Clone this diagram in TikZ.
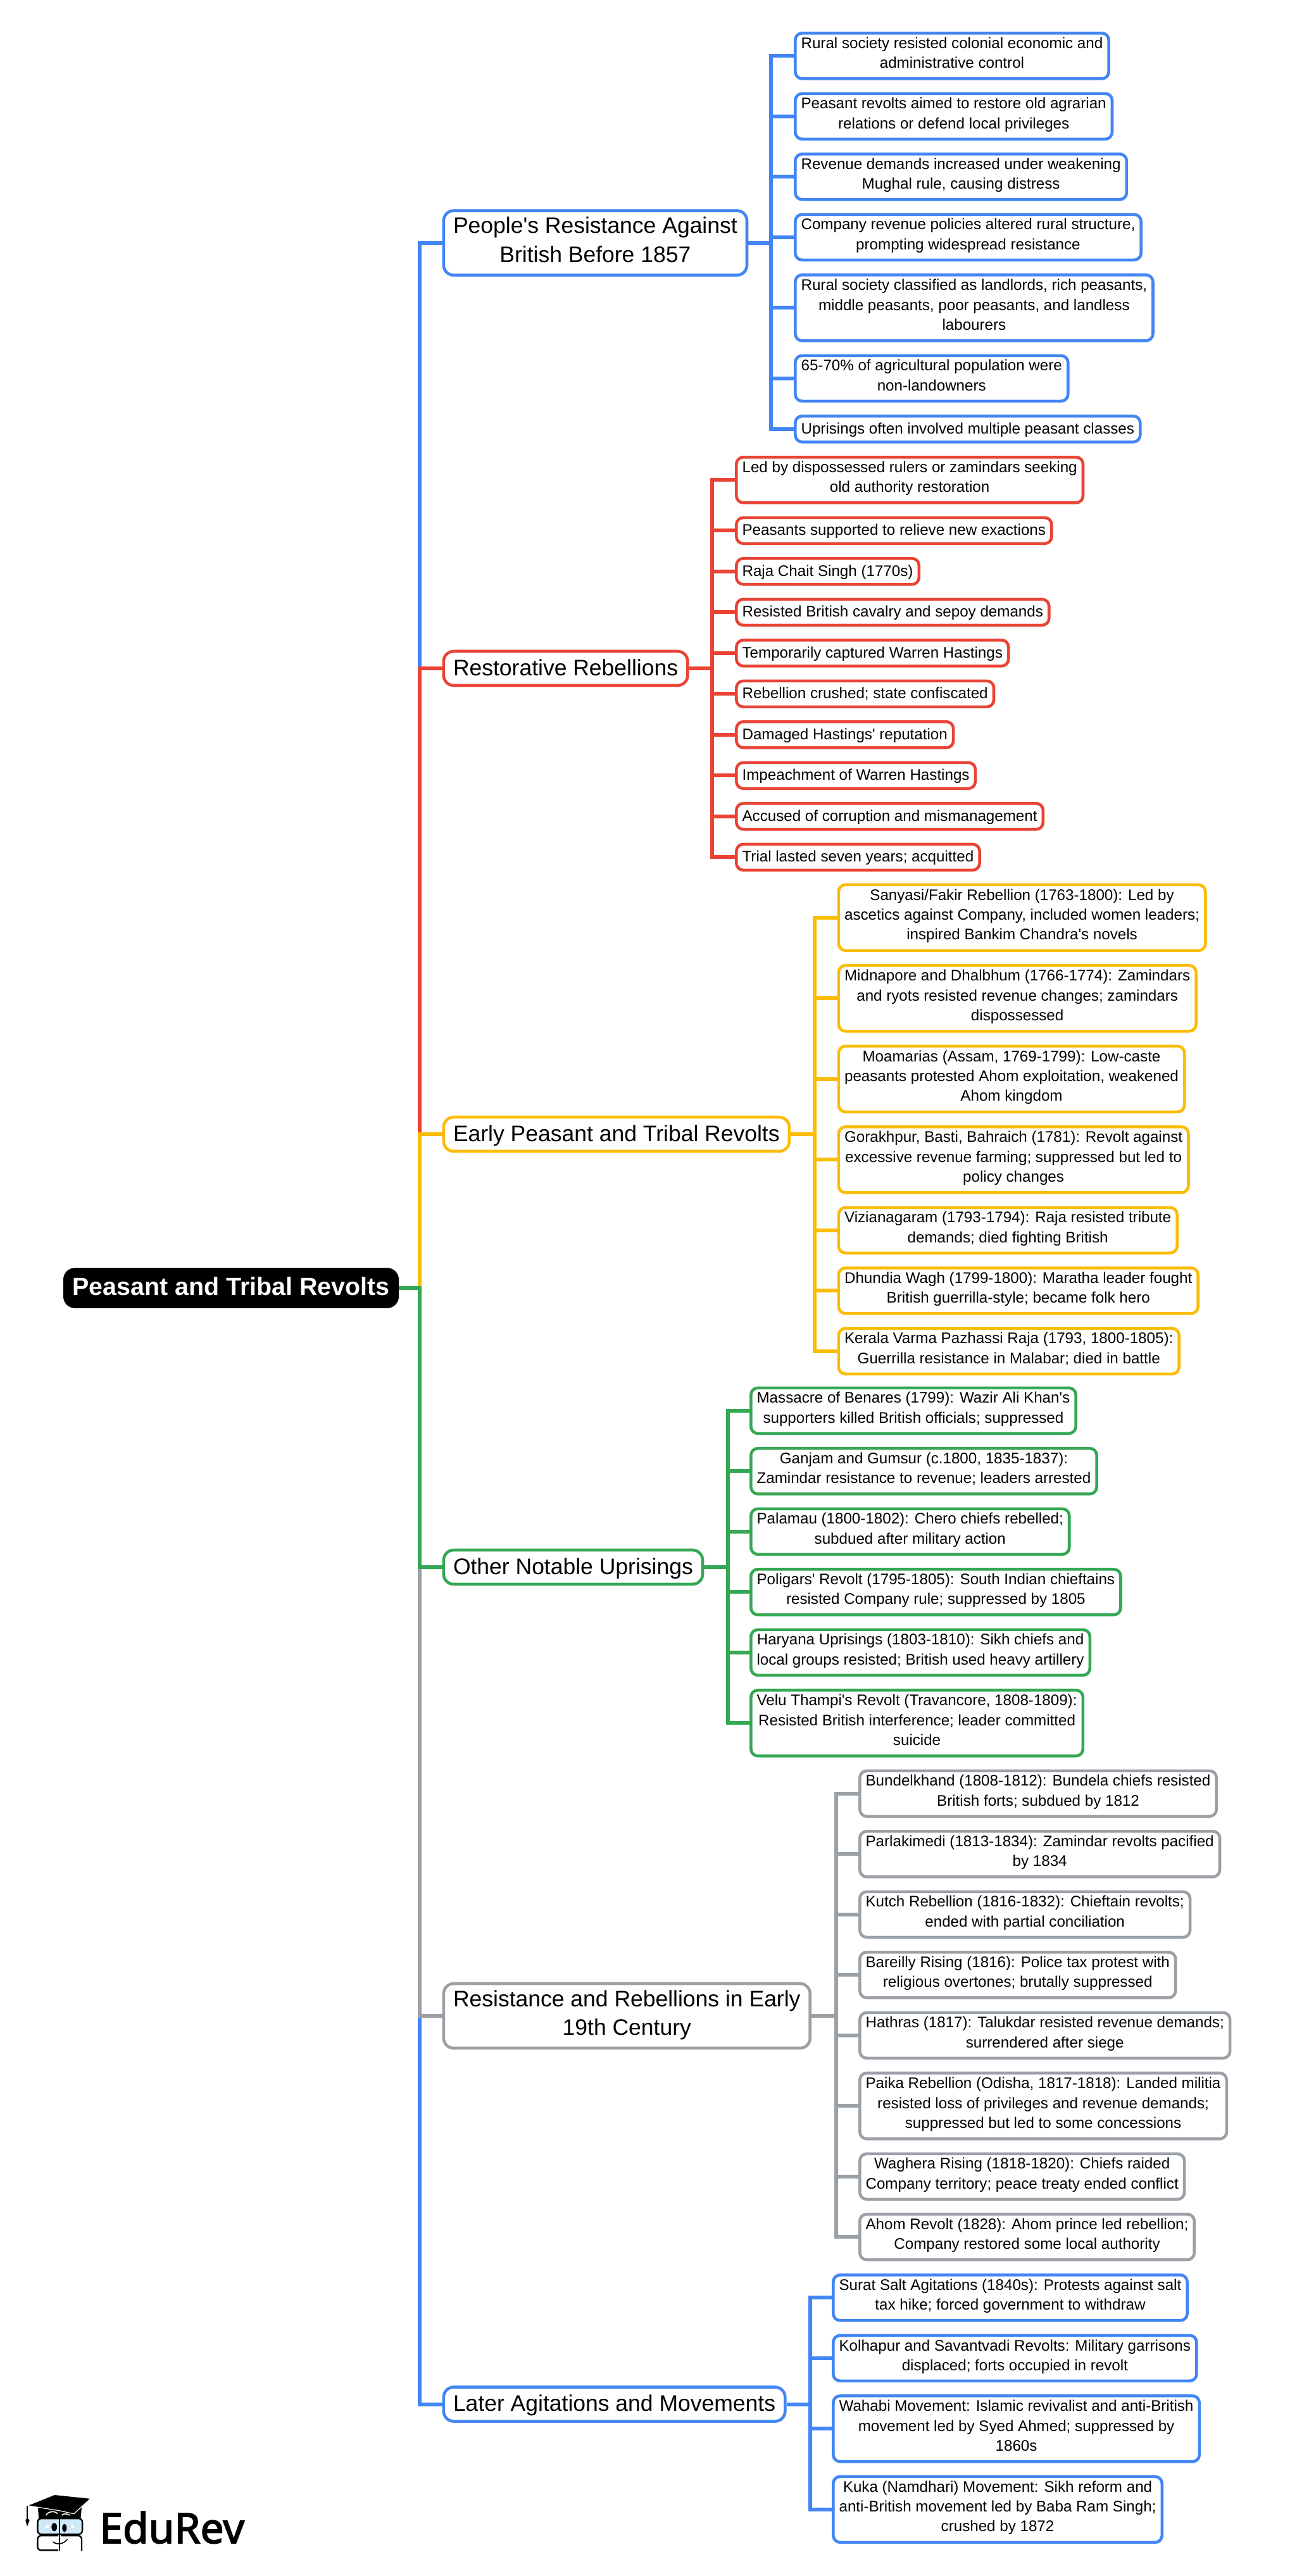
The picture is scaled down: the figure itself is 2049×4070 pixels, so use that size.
\documentclass[tikz,border=0pt]{standalone}
\usepackage{fontspec}
\usepackage{xcolor}
\setmainfont{Liberation Sans}[Ligatures=TeXOff]
\newfontfamily\logofont{Noto Sans}[FakeBold=2.5]
\usetikzlibrary{positioning}
\definecolor{gblue}{HTML}{4285F4}
\definecolor{gred}{HTML}{EA4335}
\definecolor{gyellow}{HTML}{FBBC04}
\definecolor{ggreen}{HTML}{34A853}
\definecolor{ggrey}{HTML}{9AA0A6}
\definecolor{glass}{HTML}{CFE9F9}
\newcommand{\depthroom}[1]{\vrule depth #1 width 0pt height 0pt}
\tikzstyle{boxed} = [rectangle, fill=white, line width=2.3pt, outer sep=1.15pt, align=center, inner ysep=0pt]
\tikzstyle{root} = [boxed, rounded corners=8pt, draw=black, fill=black, text=white, inner xsep=6pt, minimum height=29.5pt,
                    font=\fontsize{19.7}{24}\selectfont\bfseries,
                    execute at begin node=\rule{0pt}{18pt}, execute at end node=\depthroom{7pt}]
\tikzstyle{topic} = [boxed, rounded corners=8pt, inner xsep=7.6pt, anchor=west, minimum height=27pt,
                     font=\fontsize{17.75}{22.8}\selectfont,
                     execute at begin node=\rule{0pt}{16.4pt}, execute at end node=\depthroom{5pt}]
\tikzstyle{kid} = [boxed, rounded corners=5.5pt, inner xsep=4.65pt, anchor=north west, font=\fontsize{12.08}{15.6}\selectfont,
                   execute at begin node=\rule{0pt}{12.4pt}, execute at end node=\depthroom{5pt}]
\tikzstyle{one} = [kid, minimum height=20.5pt]
\tikzstyle{two} = [kid, minimum height=36pt]
\tikzstyle{three} = [kid, minimum height=52pt]
\tikzstyle{link} = [line width=3pt]

\begin{document}
\begin{tikzpicture}[x=0.5pt, y=0.5pt, node distance=9.45pt]
\useasboundingbox (0,0) rectangle (2049,-4070);

\node (root) [root, anchor=west] at (100,-2035) {Peasant and Tribal Revolts};

\node (p1) [topic, draw=gblue, minimum height=51pt] at (698.5,-383.75) {People's Resistance Against\\British Before 1857};
\node (p2) [topic, draw=gred] at (698.5,-1056) {Restorative Rebellions};
\node (p3) [topic, draw=gyellow] at (698.5,-1792) {Early Peasant and Tribal Revolts};
\node (p4) [topic, draw=ggreen] at (698.5,-2476) {Other Notable Uprisings};
\node (p5) [topic, draw=ggrey, minimum height=51pt] at (698.5,-3185) {Resistance and Rebellions in Early\\19th Century};
\node (p6) [topic, draw=gblue] at (698.5,-3798.5) {Later Agitations and Movements};

\node (a1) [two, draw=gblue] at (1254,-50) {Rural society resisted colonial economic and\\administrative control};
\node (a2) [two, draw=gblue, below=of a1.south west, anchor=north west] {Peasant revolts aimed to restore old agrarian\\relations or defend local privileges};
\node (a3) [two, draw=gblue, below=of a2.south west, anchor=north west] {Revenue demands increased under weakening\\Mughal rule, causing distress};
\node (a4) [two, draw=gblue, below=of a3.south west, anchor=north west] {Company revenue policies altered rural structure,\\prompting widespread resistance};
\node (a5) [three, draw=gblue, below=of a4.south west, anchor=north west] {Rural society classified as landlords, rich peasants,\\middle peasants, poor peasants, and landless\\labourers};
\node (a6) [two, draw=gblue, below=of a5.south west, anchor=north west] {65-70\% of agricultural population were\\non-landowners};
\node (a7) [one, draw=gblue, below=of a6.south west, anchor=north west] {Uprisings often involved multiple peasant classes};

\node (b1) [two, draw=gred] at (1161,-720) {Led by dispossessed rulers or zamindars seeking\\old authority restoration};
\node (b2) [one, draw=gred, below=of b1.south west, anchor=north west] {Peasants supported to relieve new exactions};
\node (b3) [one, draw=gred, below=of b2.south west, anchor=north west] {Raja Chait Singh (1770s)};
\node (b4) [one, draw=gred, below=of b3.south west, anchor=north west] {Resisted British cavalry and sepoy demands};
\node (b5) [one, draw=gred, below=of b4.south west, anchor=north west] {Temporarily captured Warren Hastings};
\node (b6) [one, draw=gred, below=of b5.south west, anchor=north west] {Rebellion crushed; state confiscated};
\node (b7) [one, draw=gred, below=of b6.south west, anchor=north west] {Damaged Hastings' reputation};
\node (b8) [one, draw=gred, below=of b7.south west, anchor=north west] {Impeachment of Warren Hastings};
\node (b9) [one, draw=gred, below=of b8.south west, anchor=north west] {Accused of corruption and mismanagement};
\node (b10) [one, draw=gred, below=of b9.south west, anchor=north west] {Trial lasted seven years; acquitted};

\node (c1) [three, draw=gyellow] at (1322.5,-1395.5) {Sanyasi/Fakir Rebellion (1763-1800): Led by\\ascetics against Company, included women leaders;\\inspired Bankim Chandra's novels};
\node (c2) [three, draw=gyellow, below=of c1.south west, anchor=north west] {Midnapore and Dhalbhum (1766-1774): Zamindars\\and ryots resisted revenue changes; zamindars\\dispossessed};
\node (c3) [three, draw=gyellow, below=of c2.south west, anchor=north west] {Moamarias (Assam, 1769-1799): Low-caste\\peasants protested Ahom exploitation, weakened\\Ahom kingdom};
\node (c4) [three, draw=gyellow, below=of c3.south west, anchor=north west] {Gorakhpur, Basti, Bahraich (1781): Revolt against\\excessive revenue farming; suppressed but led to\\policy changes};
\node (c5) [two, draw=gyellow, below=of c4.south west, anchor=north west] {Vizianagaram (1793-1794): Raja resisted tribute\\demands; died fighting British};
\node (c6) [two, draw=gyellow, below=of c5.south west, anchor=north west] {Dhundia Wagh (1799-1800): Maratha leader fought\\British guerrilla-style; became folk hero};
\node (c7) [two, draw=gyellow, below=of c6.south west, anchor=north west] {Kerala Varma Pazhassi Raja (1793, 1800-1805):\\Guerrilla resistance in Malabar; died in battle};

\node (d1) [two, draw=ggreen] at (1184,-2190.5) {Massacre of Benares (1799): Wazir Ali Khan's\\supporters killed British officials; suppressed};
\node (d2) [two, draw=ggreen, below=of d1.south west, anchor=north west] {Ganjam and Gumsur (c.1800, 1835-1837):\\Zamindar resistance to revenue; leaders arrested};
\node (d3) [two, draw=ggreen, below=of d2.south west, anchor=north west] {Palamau (1800-1802): Chero chiefs rebelled;\\subdued after military action};
\node (d4) [two, draw=ggreen, below=of d3.south west, anchor=north west] {Poligars' Revolt (1795-1805): South Indian chieftains\\resisted Company rule; suppressed by 1805};
\node (d5) [two, draw=ggreen, below=of d4.south west, anchor=north west] {Haryana Uprisings (1803-1810): Sikh chiefs and\\local groups resisted; British used heavy artillery};
\node (d6) [three, draw=ggreen, below=of d5.south west, anchor=north west] {Velu Thampi's Revolt (Travancore, 1808-1809):\\Resisted British interference; leader committed\\suicide};

\node (e1) [two, draw=ggrey] at (1356,-2795.5) {Bundelkhand (1808-1812): Bundela chiefs resisted\\British forts; subdued by 1812};
\node (e2) [two, draw=ggrey, below=of e1.south west, anchor=north west] {Parlakimedi (1813-1834): Zamindar revolts pacified\\by 1834};
\node (e3) [two, draw=ggrey, below=of e2.south west, anchor=north west] {Kutch Rebellion (1816-1832): Chieftain revolts;\\ended with partial conciliation};
\node (e4) [two, draw=ggrey, below=of e3.south west, anchor=north west] {Bareilly Rising (1816): Police tax protest with\\religious overtones; brutally suppressed};
\node (e5) [two, draw=ggrey, below=of e4.south west, anchor=north west] {Hathras (1817): Talukdar resisted revenue demands;\\surrendered after siege};
\node (e6) [three, draw=ggrey, below=of e5.south west, anchor=north west] {Paika Rebellion (Odisha, 1817-1818): Landed militia\\resisted loss of privileges and revenue demands;\\suppressed but led to some concessions};
\node (e7) [two, draw=ggrey, below=of e6.south west, anchor=north west] {Waghera Rising (1818-1820): Chiefs raided\\Company territory; peace treaty ended conflict};
\node (e8) [two, draw=ggrey, below=of e7.south west, anchor=north west] {Ahom Revolt (1828): Ahom prince led rebellion;\\Company restored some local authority};

\node (f1) [two, draw=gblue] at (1314,-3592) {Surat Salt Agitations (1840s): Protests against salt\\tax hike; forced government to withdraw};
\node (f2) [two, draw=gblue, below=of f1.south west, anchor=north west] {Kolhapur and Savantvadi Revolts: Military garrisons\\displaced; forts occupied in revolt};
\node (f3) [three, draw=gblue, below=of f2.south west, anchor=north west] {Wahabi Movement: Islamic revivalist and anti-British\\movement led by Syed Ahmed; suppressed by\\1860s};
\node (f4) [three, draw=gblue, below=of f3.south west, anchor=north west] {Kuka (Namdhari) Movement: Sikh reform and\\anti-British movement led by Baba Ram Singh;\\crushed by 1872};

\coordinate (hub) at (663,-2035);
\coordinate (sa) at (1218,-383.75);
\coordinate (sb) at (1125,-1056);
\coordinate (sc) at (1287,-1792);
\coordinate (sd) at (1150,-2476);
\coordinate (se) at (1321,-3185);
\coordinate (sf) at (1279.5,-3798.5);

\draw [link, draw=gblue] (root.east) -- (hub) |- (p1.west);
\draw [link, draw=gred] (root.east) -- (hub) |- (p2.west);
\draw [link, draw=gyellow] (root.east) -- (hub) |- (p3.west);
\draw [link, draw=gblue] (root.east) -- (hub) |- (p6.west);
\draw [link, draw=ggrey] (root.east) -- (hub) |- (p5.west);
\draw [link, draw=ggreen] (root.east) -- (hub) |- (p4.west);

\foreach \k in {a1,a2,a3,a4,a5,a6,a7} \draw [link, draw=gblue] (p1.east) -- (sa) |- (\k.west);
\foreach \k in {b1,b2,b3,b4,b5,b6,b7,b8,b9,b10} \draw [link, draw=gred] (p2.east) -- (sb) |- (\k.west);
\foreach \k in {c1,c2,c3,c4,c5,c6,c7} \draw [link, draw=gyellow] (p3.east) -- (sc) |- (\k.west);
\foreach \k in {d1,d2,d3,d4,d5,d6} \draw [link, draw=ggreen] (p4.east) -- (sd) |- (\k.west);
\foreach \k in {e1,e2,e3,e4,e5,e6,e7,e8} \draw [link, draw=ggrey] (p5.east) -- (se) |- (\k.west);
\foreach \k in {f1,f2,f3,f4} \draw [link, draw=gblue] (p6.east) -- (sf) |- (\k.west);

\node (brand) [anchor=base west, inner sep=0pt, font=\fontsize{33}{33}\selectfont\logofont] at (157,-4018) {EduRev};

\fill (60,-3962) -- (129,-3962) -- (127.4,-3979) -- (61.2,-3979) -- cycle;
\fill [draw=white, line width=0.6pt] (42.9,-3958.7) -- (86.1,-3941.3) -- (143.5,-3947.3) -- (116.7,-3971.7) -- (93.8,-3966.7) -- cycle;
\draw [white, line width=0.8pt] (72.7,-3974) .. controls (76,-3968) and (86,-3966) .. (91.1,-3971.7);
\draw [white, line width=0.8pt] (97.6,-3974) .. controls (100,-3971) and (106,-3971) .. (110.2,-3974);
\draw [line width=0.9pt] (42.9,-3958.7) -- (42.9,-3980);
\fill (42.9,-3978.3) -- (46.7,-3981.7) -- (42.9,-3991.7) -- (40.2,-3981.7) -- cycle;
\draw [fill=glass, line width=1.2pt, rounded corners=3pt] (59.3,-3979) rectangle (130.1,-4004);
\fill (85.7,-3992.7) ellipse (4.4 and 6.5);
\fill (101.8,-3994) ellipse (3.5 and 6.5);
\fill [white] (72,-3989) rectangle (77,-3994);
\fill [white] (111.5,-3989) rectangle (116.5,-3994);
\draw [line width=1.2pt, rounded corners=3pt] (91.8,-4029.3) -- (59.3,-4029.3) -- (59.3,-4006) -- (91.8,-4006);
\draw [line width=1.2pt, rounded corners=3pt] (96,-4006) -- (129,-4006) -- (129,-4030);
\draw [line width=1.2pt] (93.8,-3978) -- (93.8,-4030);
\draw [line width=0.8pt] (83.4,-4016) .. controls (90,-4021) and (100,-4020) .. (106.4,-4012);
\end{tikzpicture}
\end{document}
